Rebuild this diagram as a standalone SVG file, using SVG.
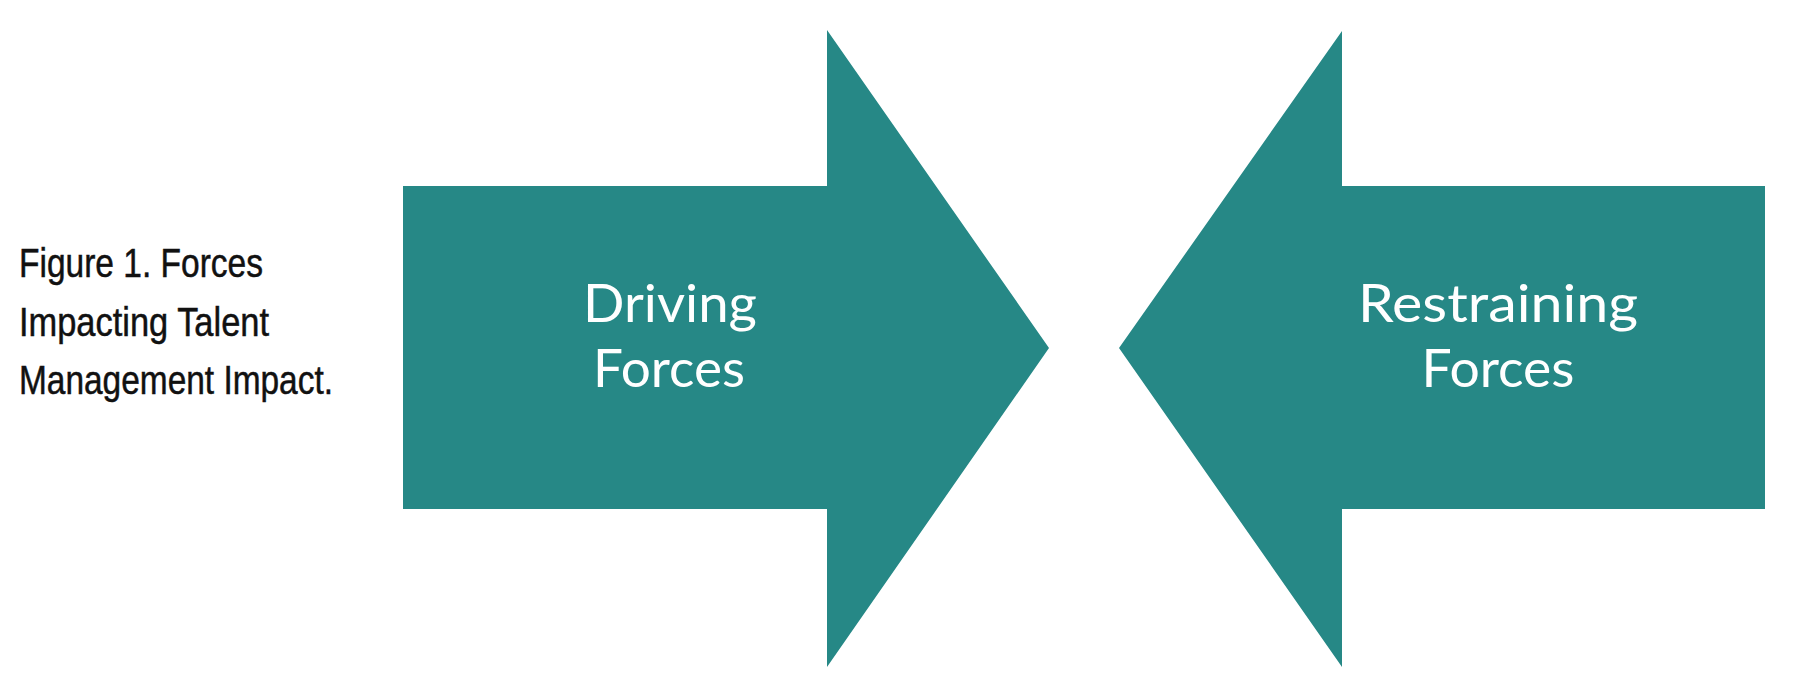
<svg xmlns="http://www.w3.org/2000/svg" width="1814" height="698" viewBox="0 0 1814 698">
<style>
.arrow{fill:#268886;}
.lbl{font-family:Lato,"Open Sans",sans-serif;font-size:53px;fill:#ffffff;text-anchor:middle;}
.cap{font-family:"Liberation Sans Narrow","Liberation Sans",Arial,sans-serif;font-size:40px;fill:#111111;stroke:#111111;stroke-width:0.5;}
</style>
<rect width="1814" height="698" fill="#ffffff"/>
<g id="caption">
<text class="cap" x="19" y="277" textLength="244" lengthAdjust="spacingAndGlyphs">Figure 1. Forces</text>
<text class="cap" x="19" y="336" textLength="250" lengthAdjust="spacingAndGlyphs">Impacting Talent</text>
<text class="cap" x="19" y="394" textLength="314" lengthAdjust="spacingAndGlyphs">Management Impact.</text>
</g>
<g id="connectors"></g>
<g id="driving">
<polygon class="arrow" points="403,186 827,186 827,30 1049,348 827,667 827,509 403,509"/>
<text class="lbl" x="670" y="322" textLength="174" lengthAdjust="spacingAndGlyphs">Driving</text>
<text class="lbl" x="669" y="387" textLength="152" lengthAdjust="spacingAndGlyphs">Forces</text>
</g>
<g id="restraining">
<polygon class="arrow" points="1765,186 1342,186 1342,31 1119,348 1342,667 1342,509 1765,509"/>
<text class="lbl" x="1498" y="322" textLength="280" lengthAdjust="spacingAndGlyphs">Restraining</text>
<text class="lbl" x="1498" y="387" textLength="153" lengthAdjust="spacingAndGlyphs">Forces</text>
</g>
</svg>
